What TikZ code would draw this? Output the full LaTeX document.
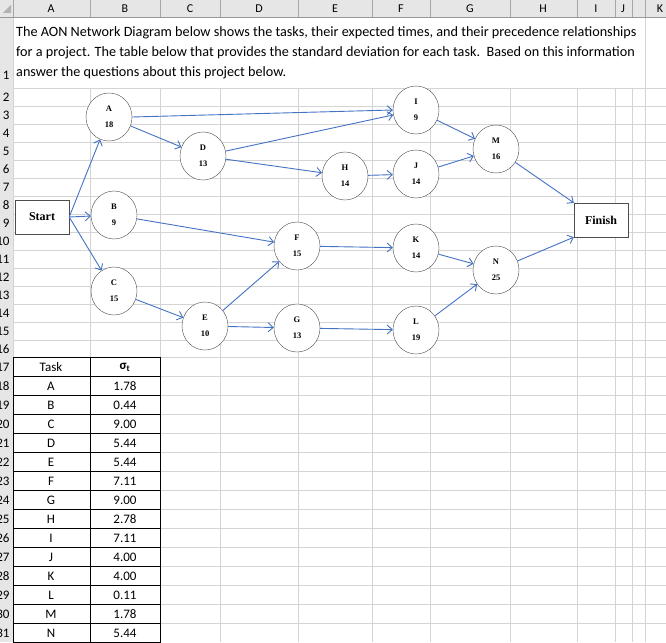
\documentclass[tikz,border=0pt]{standalone}
\usepackage{fontspec}
\setmainfont{Carlito}
\newfontfamily\tms{Liberation Serif}
\usetikzlibrary{arrows.meta,shapes.geometric}
\definecolor{edgeblue}{RGB}{68,114,196}
\definecolor{gridgray}{RGB}{212,212,212}
\definecolor{headgray}{RGB}{230,230,230}
\tikzset{
 task/.style={ellipse,draw=black!70,fill=white,minimum width=46pt,minimum height=48pt,inner sep=0pt,align=center,font=\tms\bfseries\fontsize{8.5}{16}\selectfont},
 termbox/.style={draw=black!70,fill=white,minimum width=54pt,minimum height=34pt,font=\tms\bfseries\fontsize{12}{13}\selectfont},
 link/.style={draw=edgeblue,line width=0.9pt,-{Straight Barb[length=5pt,width=9pt]}},
 cell/.style={font=\fontsize{13}{15}\selectfont},
}
\begin{document}
\begin{tikzpicture}[x=1pt,y=-1pt]
\useasboundingbox (0,0) rectangle (666,642);
\fill[white] (0,0) rectangle (666,642);
% header
\fill[headgray] (0,0) rectangle (666,17);
\fill[headgray] (0,17) rectangle (13,642);
% grid
\foreach \y in {88,106,124,142,160,178,196,214,232,250,268,286,304,322,340,357,376,395,414,433,452,471,490,509,528,547,566,585,604,623}
  \draw[gridgray] (13,\y) -- (666,\y);
\foreach \x in {90,160,220,298,372,430,510,577,615,632}
  \draw[gridgray] (\x,88) -- (\x,642);
\draw[gridgray] (645,17) -- (645,642);
\draw[gridgray] (13,17) -- (13,642);
\foreach \x in {13,90,160,220,298,372,430,510,577,615,632,645}
  \draw[black!35] (\x,0) -- (\x,17);
\draw[black!40] (0,17) -- (666,17);
\foreach \x/\l in {51/A,125/B,190/C,259/D,335/E,401/F,470/G,543/H,596/I,623/J,660/K}
  \node[font=\fontsize{12}{14}\selectfont] (h\l) at (\x,9) {\l};
\fill[black!30] (3,13) -- (11,13) -- (11,5) -- cycle;
% row numbers (clipped on the left, as in the reference)
\begin{scope}
\clip (0,17) rectangle (13,642);
\node[anchor=east,cell] (r1) at (13,75) {1};
\foreach \n/\y in {2/97,3/115,4/133,5/151,6/169,7/187,8/205,9/223,10/241,11/259,12/277,13/295,14/313,15/331,16/349,17/367,18/386,19/405,20/424,21/443,22/462,23/481,24/500,25/519,26/538,27/557,28/576,29/595,30/614,31/633}
  \node[anchor=east,cell] (r\n) at (13,\y) {\n};
\end{scope}
% intro text
\node[anchor=north west,align=left,font=\fontsize{14.2}{20}\selectfont,inner sep=0pt] (intro) at (16,26)
 {The AON Network Diagram below shows the tasks, their expected times, and their precedence relationships\\
  for a project. The table below that provides the standard deviation for each task.\ \ Based on this information\\
  answer the questions about this project below.};
% table
\draw[black,line width=0.8pt] (13,357) rectangle (160,642);
\draw[black,line width=0.8pt] (90,357) -- (90,642);
\foreach \y in {376,395,414,433,452,471,490,509,528,547,566,585,604,623}
  \draw[black,line width=0.8pt] (13,\y) -- (160,\y);
\node[cell] (th1) at (51,367) {Task};
\node[cell] (th2) at (125,367) {\bfseries σ\textsubscript{t}};
\foreach \t/\v/\y in {A/1.78/386,B/0.44/405,C/9.00/424,D/5.44/443,E/5.44/462,F/7.11/481,G/9.00/500,H/2.78/519,I/7.11/538,J/4.00/557,K/4.00/576,L/0.11/595,M/1.78/614,N/5.44/633}{
  \node[cell] (t\t) at (51,\y) {\t};
  \node[cell] (v\t) at (125,\y) {\v};
}
% network
\node[termbox] (start) at (42,217) {Start};
\node[termbox] (finish) at (601,220) {Finish};
\node[task] (A) at (109,117) {A\\18};
\node[task] (D) at (203,156) {D\\13};
\node[task] (I) at (416,110) {I\\9};
\node[task] (M) at (496,149) {M\\16};
\node[task] (H) at (345,176) {H\\14};
\node[task] (J) at (416,174) {J\\14};
\node[task] (B) at (114,215) {B\\9};
\node[task] (F) at (297,246) {F\\15};
\node[task] (K) at (416,248) {K\\14};
\node[task] (N) at (496,270) {N\\25};
\node[task] (C) at (114,291) {C\\15};
\node[task] (E) at (205,326) {E\\10};
\node[task] (G) at (297,328) {G\\13};
\node[task] (L) at (416,330) {L\\19};
\draw[link] (start.east) -- (A);
\draw[link] (start.east) -- (B);
\draw[link] (start.east) -- (C);
\draw[link] (A) -- (D);
\draw[link] (A.east) -- (I.west);
\draw[link] (D) -- (I);
\draw[link] (D) -- (H);
\draw[link] (H) -- (J);
\draw[link] (I) -- (M);
\draw[link] (J) -- (M);
\draw[link] (M) -- (finish.north west);
\draw[link] (B) -- (F);
\draw[link] (C) -- (E);
\draw[link] (E) -- (F);
\draw[link] (E) -- (G);
\draw[link] (F) -- (K);
\draw[link] (G) -- (L);
\draw[link] (K) -- (N);
\draw[link] (L) -- (N);
\draw[link] (N) -- (finish.south west);
\end{tikzpicture}
\end{document}
